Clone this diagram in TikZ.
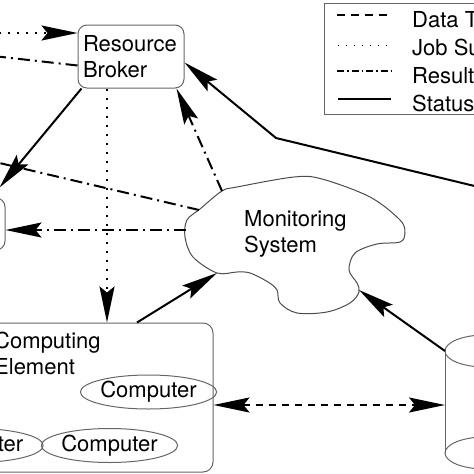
\documentclass[tikz,border=0pt]{standalone}
\usepackage{fontspec}
\setmainfont{TeX Gyre Heros}
\usetikzlibrary{arrows.meta,calc,shapes.geometric}
\begin{document}
\begin{tikzpicture}[x=1pt,y=-1pt,
  every node/.style={font=\fontsize{22}{26}\selectfont},
  >={Stealth[length=36pt,width=15pt,inset=6pt]},
  rbox/.style={draw=black!60, line width=1pt, rounded corners=9pt},
  comp/.style={draw=black!60, line width=1pt, ellipse, minimum width=117pt, minimum height=34pt, inner sep=0pt},
  lbl/.style={align=left, inner sep=0pt, anchor=north west},
  legtxt/.style={anchor=base west, inner sep=0pt},
  stat/.style={->, line width=2pt},
  job/.style={->, line width=2pt, dash pattern=on 2pt off 7pt},
  res/.style={->, line width=2pt, dash pattern=on 12pt off 5pt on 2pt off 5pt},
  dat/.style={<->, line width=2pt, dash pattern=on 7pt off 6pt},
  cyl/.style={draw=black!60, line width=1pt},
]
\useasboundingbox (0,0) rectangle (474,474);
\clip (0,0) rectangle (474,474);

% nodes
\node[rbox, minimum width=106pt, minimum height=63pt, text width=96pt, inner sep=5pt, align=left] (rb) at (131,56.5) {Resource\\Broker};
\node[rbox, minimum width=70pt, minimum height=52pt] (lb) at (-30,224) {};
\node[rbox, rounded corners=10pt, minimum width=300pt, minimum height=149pt] (ce) at (63,397.5) {};
\node[lbl] (cel) at (-6,332) {Computing\\Element};
\node[comp] (pc1) at (148.5,392) {Computer};
\node[comp] (pc2) at (109.5,445.5) {Computer};
\node[comp] (pc3) at (-25,445.5) {Computer};

% monitoring cloud
\draw[draw=black!70, line width=1pt] plot[smooth cycle, tension=0.55] coordinates {
 (222,191) (237,187) (294,177) (322,179) (370,197) (400,220) (405,233) (400,242)
 (377,244) (355,253) (349,270) (357,283) (359,292) (350,303) (327,312) (297,313)
 (280,303) (277,290) (268,282) (250,273) (237,272) (217,273) (193,257) (185,237)
 (187,220) (200,209)};
\node[lbl] (msl) at (244,210) {Monitoring\\System};

% storage cylinder
\draw[cyl] (445,351) -- (445,453);
\draw[cyl] (485,351) ellipse [x radius=40pt, y radius=16pt];
\draw[cyl] (485,453) ellipse [x radius=40pt, y radius=16pt];
\coordinate (dbtop) at (445,351);
\coordinate (dbw) at (445,405);

% legend
\node[draw=black!60, line width=1pt, minimum width=200pt, minimum height=111pt] (leg) at (424,58.5) {};
\node[legtxt] (l1) at (412,27) {Data Transfer};
\node[legtxt] (l2) at (412,55) {Job Submission};
\node[legtxt] (l3) at (412,83) {Results};
\node[legtxt] (l4) at (412,111) {Status};
\draw[line width=1.2pt, dash pattern=on 8pt off 6pt] (337,15) -- (391,15);
\draw[line width=1pt, dash pattern=on 1pt off 7pt] (338,45) -- (391,45);
\draw[line width=1.2pt, dash pattern=on 7pt off 3pt on 1.5pt off 3pt] (337,71) -- (391,71);
\draw[line width=1.2pt] (338,99) -- (391,99);

% connectors
\coordinate (u1) at (-10,33);
\draw[job] (u1) -- (rb.west |- u1);
\coordinate (u2) at (-60,50);
\draw[res] ($(rb.south west)+(0,-23)$) -- (u2);
\draw[stat] ($(rb.south west)+(4,0)$) -- ($(lb.north east)+(-6,-10)$);
\coordinate (c1) at (199,210);
\coordinate (u3) at (-60,149);
\draw[res] (c1) -- (u3);
\coordinate (c2) at (185.5,230);
\draw[res] (c2) -- (lb.east |- c2);
\coordinate (jd) at ($(rb.south)+(-24,0)$);
\draw[job] (jd) -- (jd |- ce.north);
\coordinate (c3) at (222,191);
\draw[res] (c3) -- ($(rb.south east)+(-8,0)$);
\coordinate (u4) at (520,197);
\coordinate (bend) at (276,138);
\draw[stat] (u4) -- (bend) -- ($(rb.east)+(0,6)$);
\coordinate (c4) at (217,273);
\draw[stat] ($(ce.north)+(74,0)$) -- (c4);
\coordinate (c5) at (359,290);
\draw[stat] (dbtop) -- (c5);
\draw[dat] (ce.east |- dbw) -- (dbw);
\end{tikzpicture}
\end{document}
